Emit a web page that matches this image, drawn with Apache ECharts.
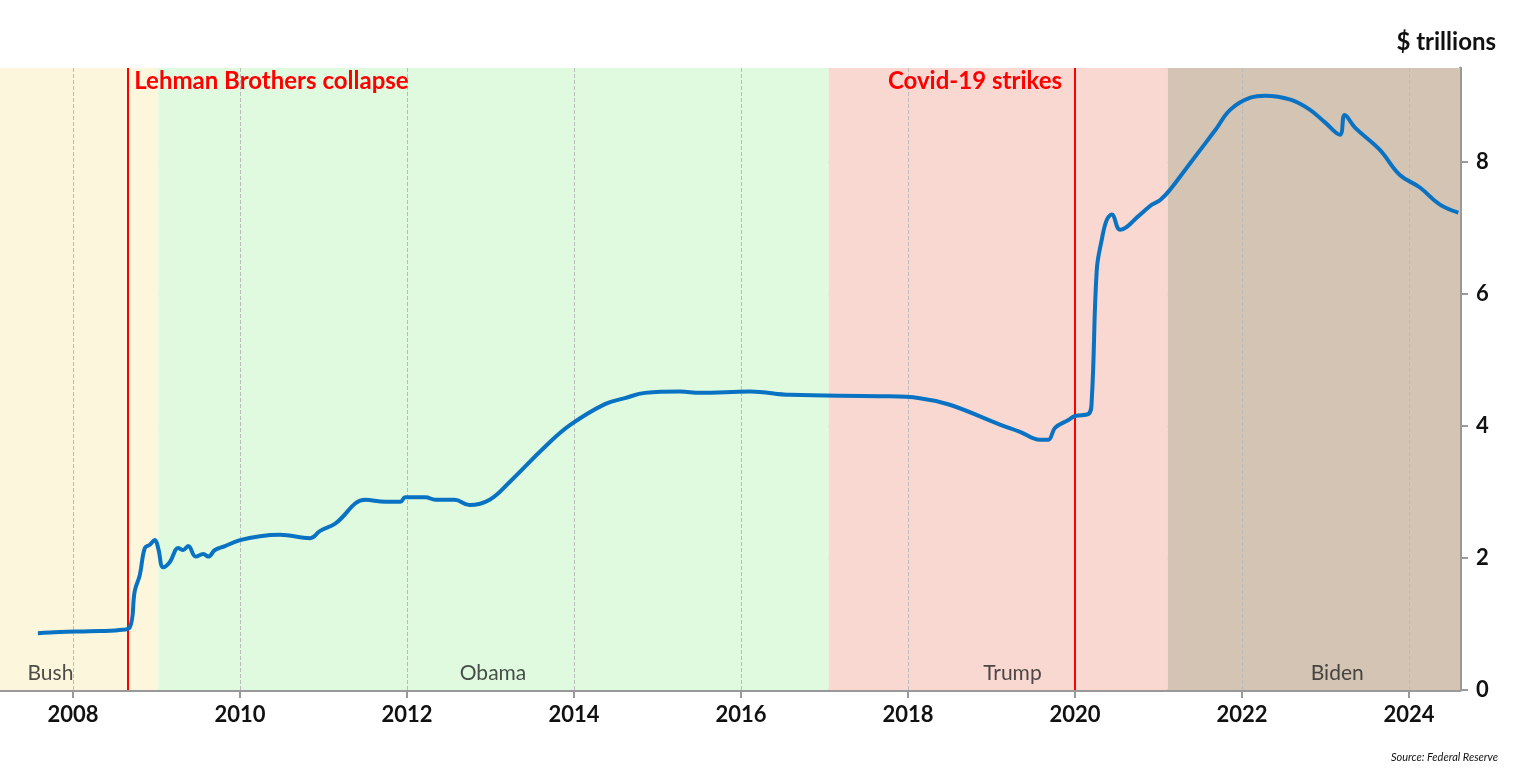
<!DOCTYPE html>
<html><head><meta charset="utf-8">
<script src="https://cdn.jsdelivr.net/npm/echarts@6/dist/echarts.min.js"></script>
<style>html,body{margin:0;background:#fff}#main{width:1536px;height:775px}</style>
</head><body><div id="main"></div>
<script>
// balance sheet, $ trillions, by decimal year
var years = [2007.58,2007.84,2008.2,2008.56,2008.68,2008.74,2008.8,2008.86,2008.92,2008.98,2009.02,2009.08,2009.16,2009.26,2009.32,2009.38,2009.47,2009.56,2009.62,2009.7,2009.82,2010.0,2010.24,2010.48,2010.84,2010.96,2011.14,2011.5,2011.74,2011.92,2011.98,2012.22,2012.34,2012.57,2012.75,2012.99,2013.23,2013.65,2013.95,2014.37,2014.61,2014.85,2015.27,2015.51,2016.11,2016.59,2017.66,2018.14,2018.5,2019.1,2019.34,2019.58,2019.68,2019.76,2019.92,2020.0,2020.16,2020.2,2020.26,2020.32,2020.38,2020.44,2020.54,2020.78,2020.92,2021.02,2021.14,2021.32,2021.5,2021.68,2021.86,2022.1,2022.28,2022.58,2022.81,2022.99,2023.17,2023.23,2023.35,2023.65,2023.89,2024.13,2024.37,2024.59];
var assets = [0.86,0.88,0.89,0.91,0.95,1.5,1.74,2.15,2.2,2.27,2.15,1.86,1.94,2.15,2.12,2.18,2.02,2.06,2.02,2.12,2.18,2.27,2.33,2.35,2.30,2.41,2.52,2.88,2.85,2.85,2.92,2.92,2.88,2.88,2.80,2.88,3.15,3.68,4.01,4.33,4.42,4.5,4.52,4.50,4.52,4.47,4.45,4.42,4.32,4.02,3.91,3.79,3.79,3.97,4.09,4.15,4.18,4.39,6.36,6.82,7.12,7.2,6.97,7.2,7.35,7.42,7.58,7.88,8.18,8.48,8.79,8.97,9.0,8.94,8.79,8.6,8.41,8.71,8.52,8.18,7.8,7.61,7.35,7.23];
var xTicks = [2008,2010,2012,2014,2016,2018,2020,2022,2024];
var presidents = ['Bush','Obama','Trump','Biden'];
var terms = [[2007.126,2009.02],[2009.02,2017.05],[2017.05,2021.11],[2021.11,2024.61]];
var termColors = ['#fcf6dd','#dffadf','#f8d8d1','#d4c4b4'];
var labelPos = [2007.73,2013.03,2019.25,2023.14];
var events = [[2008.65,'Lehman Brothers collapse','left'],[2020.0,'Covid-19 strikes','right']];

var X0 = 2007.126, X1 = 2024.61;
var myChart = echarts.init(document.getElementById('main'));
var option = {
  animation:false,
  textStyle:{fontFamily:'Lato'},
  grid:{left:0,right:76,top:68,bottom:85},
  xAxis:{type:'value',min:X0,max:X1,
    axisLine:{lineStyle:{color:'#999',width:3}},
    axisTick:{customValues:xTicks,length:8,lineStyle:{color:'#999',width:2}},
    axisLabel:{customValues:xTicks,fontSize:22,fontWeight:'bold',color:'#111',margin:14,formatter:function(v){return String(v)}},
    splitLine:{show:false}},
  yAxis:{type:'value',position:'right',min:0,max:9.42,interval:2,
    axisLine:{show:true,lineStyle:{color:'#999',width:3}},
    axisTick:{show:true,length:8,lineStyle:{color:'#999',width:2}},
    axisLabel:{fontSize:22,fontWeight:'bold',color:'#111',margin:16,showMaxLabel:false},
    splitLine:{lineStyle:{type:'dashed',color:'#bbb'}}},
  graphic:[
    {type:'text',right:40,top:30,style:{text:'$ trillions',font:'bold 24px Lato',fill:'#111'}},
    {type:'text',right:38,top:752,style:{text:'Source: Federal Reserve',font:'italic 11px Lato',fill:'#111'}}
  ],
  series:[
    {type:'line',data:[],silent:true,
      markArea:{silent:true,data:terms.map(function(t,i){
        return [{xAxis:t[0],itemStyle:{color:termColors[i]}},{xAxis:t[1]}];})},
      markLine:{silent:true,symbol:'none',data:xTicks.map(function(v){
        return {xAxis:v,lineStyle:{type:'dashed',color:'#bbb',width:1},label:{show:false}};})}},
    {type:'scatter',data:presidents.map(function(p,i){return [labelPos[i],0.25,p];}),symbolSize:0,silent:true,
      label:{show:true,formatter:function(p){return p.data[2]},fontSize:21,color:'#222',position:'inside'}},
    {type:'line',data:years.map(function(y,i){return [y,assets[i]];}),smooth:0.4,showSymbol:false,
      lineStyle:{color:'#0a72c2',width:4},z:5,
      markLine:{silent:true,symbol:'none',data:events.map(function(e){
        return {xAxis:e[0],lineStyle:{type:'solid',color:'#ff0000',width:2},
          label:{show:true,formatter:e[1],position:'insideEndTop',rotate:0,color:'#ff0000',fontSize:24,fontWeight:'bold',
            align:e[2],offset:[e[2]=='left'?12:-8,30]}};})}}
  ]
};
myChart.setOption(option);
</script></body></html>
